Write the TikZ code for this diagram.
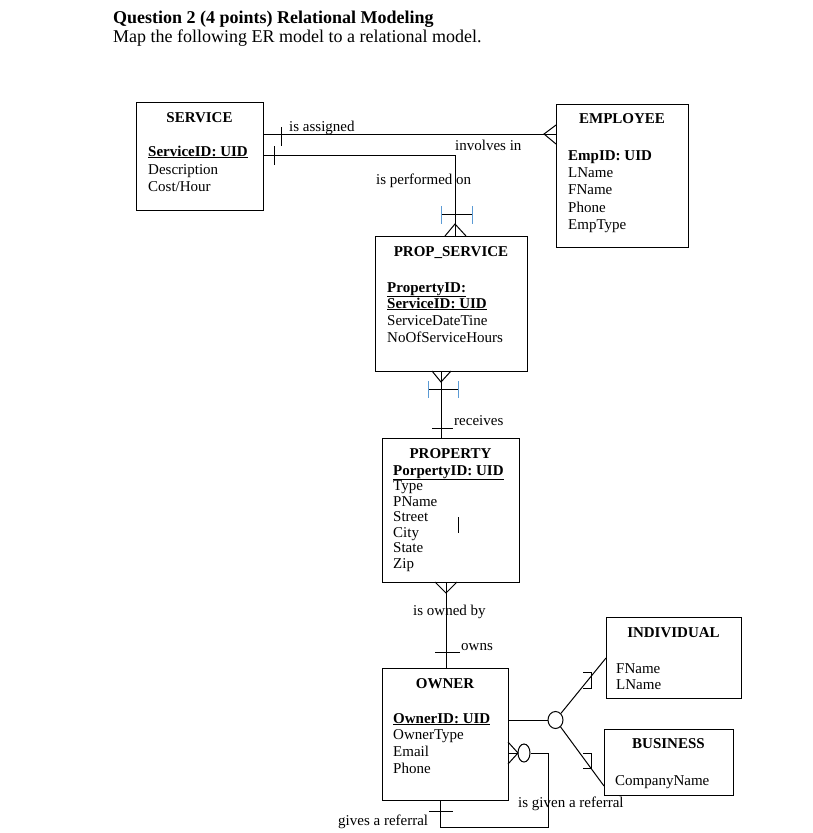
\documentclass[tikz,border=0pt]{standalone}
\usepackage{fontspec}
\setmainfont{Liberation Serif}
\usetikzlibrary{calc,shapes.geometric}
\definecolor{tickblue}{RGB}{91,155,213}
\begin{document}
\begin{tikzpicture}[x=1pt,y=-1pt,
  box/.style={draw, line width=1pt, inner sep=0pt, anchor=north west},
  txt/.style={inner sep=0pt, anchor=base west, font=\fontsize{15}{17}\selectfont},
  ttl/.style={inner sep=0pt, anchor=base, font=\fontsize{15}{17}\selectfont\bfseries},
  conn/.style={line width=1pt},
  bluetick/.style={draw=tickblue, line width=1pt},
  zero/.style={draw, line width=1pt, ellipse, inner sep=0pt}]
\useasboundingbox (0,0) rectangle (813,833);

% heading
\node[inner sep=0pt, anchor=base west, font=\fontsize{18}{20}\selectfont\bfseries] (h1) at (113,23) {Question 2 (4 points) Relational Modeling};
\node[inner sep=0pt, anchor=base west, font=\fontsize{18}{20}\selectfont] (h2) at (113,42) {Map the following ER model to a relational model.};

% entity boxes
\node[box, minimum width=127pt, minimum height=108pt] (service) at (136,102) {};
\node[box, minimum width=132pt, minimum height=143pt] (employee) at (556,104) {};
\node[box, minimum width=152pt, minimum height=135pt] (propserv) at (375,236) {};
\node[box, minimum width=137pt, minimum height=144pt] (property) at (382,438) {};
\node[box, minimum width=126pt, minimum height=132pt] (owner) at (382,668) {};
\node[box, minimum width=135pt, minimum height=81pt] (individual) at (606,617) {};
\node[box, minimum width=129pt, minimum height=66pt] (business) at (604,729) {};

% SERVICE text
\node[ttl] (serviceT) at (199.5,122) {SERVICE};
\node[txt] (s1) at (148,156) {\textbf{\underline{ServiceID: UID}}};
\node[txt] (s2) at (148,174) {Description};
\node[txt] (s3) at (148,191) {Cost/Hour};

% EMPLOYEE text
\node[ttl] (employeeT) at (622,123) {EMPLOYEE};
\node[txt] (e1) at (568,160) {\textbf{EmpID: UID}};
\node[txt] (e2) at (568,177) {LName};
\node[txt] (e3) at (568,194) {FName};
\node[txt] (e4) at (568,212) {Phone};
\node[txt] (e5) at (568,229) {EmpType};

% PROP_SERVICE text
\node[ttl] (propservT) at (451,256) {PROP\_SERVICE};
\node[txt] (p1) at (387,292) {\textbf{\underline{PropertyID:}}};
\node[txt] (p2) at (387,308) {\textbf{\underline{ServiceID: UID}}};
\node[txt] (p3) at (387,325) {ServiceDateTine};
\node[txt] (p4) at (387,342) {NoOfServiceHours};

% PROPERTY text
\node[ttl] (propertyT) at (450.5,458) {PROPERTY};
\node[txt] (r1) at (393,475) {\textbf{\underline{PorpertyID: UID}}};
\node[txt] (r2) at (393,490) {Type};
\node[txt] (r3) at (393,506) {PName};
\node[txt] (r4) at (393,521) {Street};
\node[txt] (r5) at (393,537) {City};
\node[txt] (r6) at (393,552) {State};
\node[txt] (r7) at (393,568) {Zip};
\draw[conn] (458,517) -- (458,533);

% OWNER text
\node[ttl] (ownerT) at (445,688) {OWNER};
\node[txt] (o1) at (393,723) {\textbf{\underline{OwnerID: UID}}};
\node[txt] (o2) at (393,739) {OwnerType};
\node[txt] (o3) at (393,756) {Email};
\node[txt] (o4) at (393,773) {Phone};

% INDIVIDUAL / BUSINESS text
\node[ttl] (individualT) at (673.5,637) {INDIVIDUAL};
\node[txt] (i1) at (616,673) {FName};
\node[txt] (i2) at (616,689) {LName};
\node[ttl] (businessT) at (668.5,748) {BUSINESS};
\node[txt] (b1) at (615,785) {CompanyName};

% ---- is assigned / involves in
\draw[conn] ($(service.north east)+(0,32)$) -- ($(employee.north west)+(0,30)$);
\draw[conn] (281,127) -- (281,146);
\draw[conn] (556,125) -- (544,134) -- (556,144);
\node[txt] (lAssigned) at (289,131) {is assigned};
\node[txt] (lInvolves) at (455,150) {involves in};

% ---- is performed on
\draw[conn] ($(service.north east)+(0,53)$) -| ($(propserv.north west)+(80,0)$);
\draw[conn] (274,146) -- (274,165);
\node[txt] (lPerformed) at (376,184) {is performed on};
\draw[conn] (441,214) -- (472,214);
\draw[bluetick] (441,206) -- (441,224);
\draw[bluetick] (472,206) -- (472,224);
\draw[conn] (445,236) -- (455,224) -- (466,236);

% ---- receives
\draw[conn] ($(propserv.south west)+(66,0)$) -- ($(property.north west)+(59,0)$);
\draw[conn] (432,371) -- (441,382) -- (451,371);
\draw[conn] (428,389) -- (458,389);
\draw[bluetick] (428,381) -- (428,398);
\draw[bluetick] (458,381) -- (458,398);
\draw[conn] (432,428) -- (453,428);
\node[txt] (lReceives) at (454,425) {receives};

% ---- owns / is owned by
\draw[conn] ($(property.south west)+(64,0)$) -- ($(owner.north west)+(64,0)$);
\draw[conn] (435,582) -- (446,593) -- (457,582);
\node[txt] (lOwnedBy) at (413,615) {is owned by};
\draw[conn] (435,652) -- (460,652);
\node[txt] (lOwns) at (461,650) {owns};

% ---- ISA (owner -> individual / business)
\node[zero, minimum width=15pt, minimum height=17pt] (isa) at (555.5,720) {};
\draw[conn] ($(owner.north east)+(0,52)$) -- (isa.west);
\draw[conn] (isa) -- ($(individual.south west)+(0,-41)$);
\draw[conn] (isa) -- ($(business.south west)+(0,-10)$);
\draw[conn] (583,672) -- (591,672) -- (591,688) -- (583,688);
\draw[conn] (583,753) -- (591,753) -- (591,768) -- (583,768);

% ---- referral (recursive)
\node[zero, minimum width=12pt, minimum height=18pt] (refo) at (524,753) {};
\coordinate (refc) at (548,827);
\draw[conn] ($(owner.north east)+(0,85)$) -- (refo.west);
\draw[conn] (508,742) -- (518,753) -- (508,764);
\draw[conn] ($(owner.south west)+(58,0)$) |- (refc) |- (refo.east);
\draw[conn] (429,811) -- (453,811);
\node[txt] (lGiven) at (518,807) {is given a referral};
\node[txt] (lGives) at (338,825) {gives a referral};
\end{tikzpicture}
\end{document}
